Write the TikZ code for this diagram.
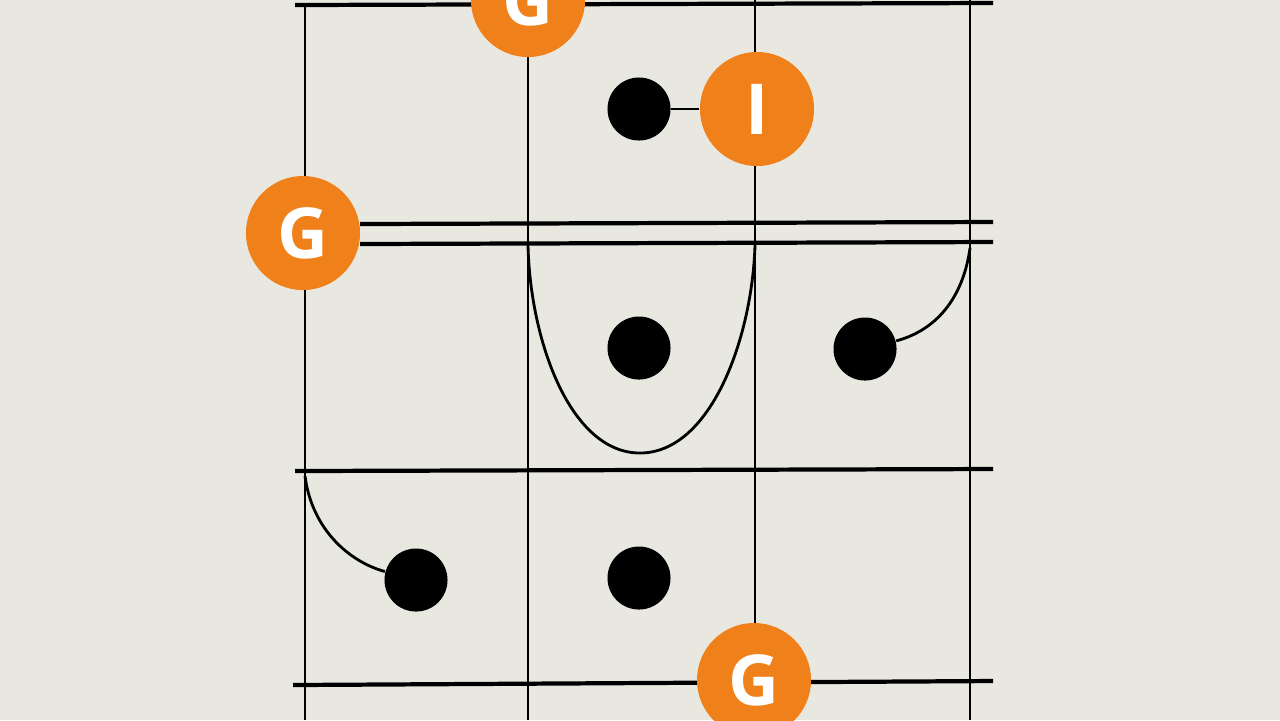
\documentclass[tikz,border=0pt]{standalone}
\usepackage{fontspec}
\setmainfont{Open Sans}
\definecolor{bg}{HTML}{E9E8E0}
\definecolor{org}{HTML}{F0801A}
\begin{document}
\begin{tikzpicture}[x=0.01cm,y=-0.01cm,
  hline/.style={line width=1.2pt,black},
  vline/.style={line width=0.8pt,black},
  conn/.style={line width=0.8pt,black},
  badge/.style={circle,fill=org,draw=none,minimum size=1.14cm,inner sep=0pt,text=white,font=\fontsize{20}{20}\selectfont\bfseries},
  dot/.style={circle,fill=black,draw=none,minimum size=0.63cm,inner sep=0pt}]
\fill[bg] (0,0) rectangle (1280,720);
\useasboundingbox (0,0) rectangle (1280,720);
% grid
\draw[vline] (305,5) -- (305,720);
\draw[vline] (528,0) -- (528,720);
\draw[vline] (755,0) -- (755,680);
\draw[vline] (970,0) -- (970,720);
\draw[hline] (295,5) -- (993,3);
\draw[hline] (360,224) -- (993,222);
\draw[hline] (360,244) -- (993,242);
\draw[hline] (295,471) -- (993,469);
\draw[hline] (293,685) -- (993,681);
% curve end points
\coordinate (u1) at (528,245);
\coordinate (u2) at (640,453);
\coordinate (u3) at (755,245);
\coordinate (r1) at (970,248);
\coordinate (l1) at (305,476);
% dots
\node[dot] (d1) at (639,109) {};
\node[dot] (d2) at (639,348) {};
\node[dot] (d3) at (865,349) {};
\node[dot] (d4) at (416,580) {};
\node[dot] (d5) at (639,578) {};
\draw[conn] (u1) .. controls (530,340) and (570,453) .. (u2) .. controls (710,453) and (752,340) .. (u3);
\draw[conn] (r1) .. controls (962,305) and (930,332) .. (d3);
\draw[conn] (l1) .. controls (312,530) and (350,562) .. (d4);
% badges
\node[badge] (g1) at (528,0) {G};
\node[badge] (g2) at (303,233) {G};
\node[badge] (i1) at (757,109) {I};
\node[badge] (g3) at (754,680) {G};
\draw[conn] (d1) -- (i1);
\end{tikzpicture}
\end{document}
